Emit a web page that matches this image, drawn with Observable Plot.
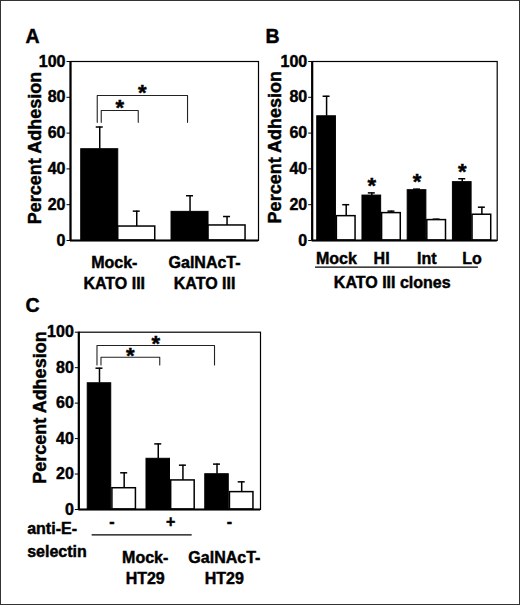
<!DOCTYPE html>
<html><head><meta charset="utf-8">
<script src="https://cdn.jsdelivr.net/npm/d3@7"></script>
<script src="https://cdn.jsdelivr.net/npm/@observablehq/plot@0.6"></script>
<style>
html,body{margin:0;padding:0;background:#fff;overflow:hidden}
#fig{position:relative;width:520px;height:605px;}
#fig svg{position:absolute;left:0;top:0;}
#fig svg text{paint-order:stroke;stroke:#000;stroke-width:0.45px;}
#border{position:absolute;left:0;top:0;width:520px;height:605px;box-sizing:border-box;border:1.5px solid #333;pointer-events:none;z-index:5}
</style></head><body>
<div id="fig"><div id="border"></div></div>
<script>
// ---------- Panel A ----------
const groupsA = ["Mock-\nKATO III", "GalNAcT-\nKATO III"];
const blackA = [51, 16];
const blackErrA = [12.4, 9];
const whiteA = [7.8, 8.4];
const whiteErrA = [8.6, 5];
const bracketsA = [
  {from: [0, 0], to: [0, 1], level: 72.6, foot: 66},
  {from: [0, 0], to: [1, 0], level: 81, foot: 66}
];

// ---------- Panel B ----------
const groupsB = ["Mock", "HI", "Int", "Lo"];
const blackB = [69.4, 25.1, 28.1, 32.6];
const blackErrB = [11.2, 1.5, 0.6, 1.9];
const whiteB = [13.6, 15.3, 11.4, 14.4];
const whiteErrB = [6.4, 1.1, 0.5, 4.2];
const starredB = ["HI", "Int", "Lo"];
const titleB = "KATO III clones";

// ---------- Panel C ----------
const treatmentC = ["-", "+", "-"];
const blackC = [71.2, 28.6, 19.9];
const blackErrC = [8.5, 8.4, 5.7];
const whiteC = [12, 16.4, 9.8];
const whiteErrC = [8.7, 8.6, 5.8];
const cellLinesC = ["Mock-\nHT29", "GalNAcT-\nHT29"];
const cellLineGroupsC = [[0, 1], [2]];
const treatmentTitleC = "anti-E-\nselectin";
const bracketsC = [
  {from: [0, 0], to: [1, 0], level: 85.9, foot: 81.5},
  {from: [0, 0], to: [2, 0], level: 92.5, foot: 81.5}
];

const yTicks = [0, 20, 40, 60, 80, 100];
const yLabel = "Percent Adhesion";
const FONT = "'Liberation Sans', Arial, Helvetica, sans-serif";

function makeLayout(gs, wg) {
  const xc = (gi, si) => gi * gs + si * (1 + wg) + 0.5;
  const gStart = gi => gi * gs;
  const gEnd = gi => gi * gs + 2 + wg;
  const gMid = gi => gi * gs + (2 + wg) / 2;
  return {xc, gStart, gEnd, gMid};
}

function rowsFor(black, blackErr, white, whiteErr, L) {
  const rows = [];
  black.forEach((v, gi) => {
    [[v, blackErr[gi], "black"], [white[gi], whiteErr[gi], "white"]].forEach(([val, err, fill], si) => {
      const c = L.xc(gi, si);
      rows.push({gi, si, value: val, err, top: val + err, fill, x1: c - 0.5, x2: c + 0.5, xc: c});
    });
  });
  return rows;
}

function barMarks(rows, xDomain) {
  return [
    Plot.rectY(rows.filter(d => d.fill === "black"), {x1: "x1", x2: "x2", y1: 0, y2: "value", fill: "black", stroke: "black", strokeWidth: 1}),
    Plot.ruleX(rows, {x: "xc", y1: "value", y2: "top", stroke: "black", strokeWidth: 1.5}),
    Plot.ruleY(rows, {y: "top", x1: "xc", x2: "xc", insetLeft: -3.5, insetRight: -3.5, stroke: "black", strokeWidth: 1.5}),
    Plot.rectY(rows.filter(d => d.fill === "white"), {x1: "x1", x2: "x2", y1: 0, y2: "value", fill: "white", stroke: "black", strokeWidth: 1.5}),
    Plot.frame({stroke: "black", strokeWidth: 1.2}),
    Plot.ruleY([0], {stroke: "black", strokeWidth: 2.2}),
    Plot.ruleX([xDomain[0]], {stroke: "black", strokeWidth: 2.2})
  ];
}

function bracketMarks(brackets, L, starDy) {
  const marks = [];
  brackets.forEach((b, i) => {
    const xa = L.xc(...b.from), xb = L.xc(...b.to);
    const pts = [{x: xa, y: b.foot}, {x: xa, y: b.level}, {x: xb, y: b.level}, {x: xb, y: b.foot}];
    const dx = i === 0 ? 1.5 : -2.5;
    marks.push(Plot.line(pts, {x: "x", y: "y", dx, stroke: "#222", strokeWidth: 1.1, curve: "linear"}));
    marks.push(Plot.text([b], {x: (xa + xb) / 2, y: b.level, text: () => "*", dx, dy: starDy, fontSize: 22}));
  });
  return marks;
}

function yLabelMark(dx, dy) {
  return Plot.text([yLabel], {text: d => d, frameAnchor: "left", rotate: -90, textAnchor: "middle", lineAnchor: "bottom", dx, dy, fontSize: 18});
}
function letterMark(letter, dx, dy) {
  return Plot.text([letter], {text: d => d, frameAnchor: "top-left", textAnchor: "start", lineAnchor: "top", dx, dy, fontSize: 19.5});
}

const common = (m) => ({
  width: 520, height: 605,
  ...m,
  y: {domain: [0, 100], ticks: yTicks, tickSize: 3.5, tickPadding: 1.5, label: null},
  style: {fontFamily: FONT, fontWeight: "bold", fontSize: "16px", background: "transparent", overflow: "visible", color: "black"}
});

const fig = document.getElementById("fig");

// ---------- Draw A ----------
{
  const L = makeLayout(2.44, 0);
  const rows = rowsFor(blackA, blackErrA, whiteA, whiteErrA, L);
  const xDomain = [-0.29, 4.79];
  const labels = groupsA.map((label, gi) => ({label, x: L.gMid(gi)}));
  fig.appendChild(Plot.plot({
    ...common({marginLeft: 70, marginRight: 262, marginTop: 61, marginBottom: 365}),
    x: {domain: xDomain, axis: null},
    marks: [
      ...barMarks(rows, xDomain),
      ...bracketMarks(bracketsA, L, -2.5),
      Plot.text(labels, {x: "x", text: "label", frameAnchor: "bottom", lineAnchor: "top", dy: 12, dx: -4, lineHeight: 1.35}),
      yLabelMark(-30, -3),
      letterMark("A", -45, -32.7)
    ]
  }));
}

// ---------- Draw B ----------
{
  const L = makeLayout(2.42, 0.05);
  const rows = rowsFor(blackB, blackErrB, whiteB, whiteErrB, L);
  const xDomain = [-0.27, 9.63];
  const labels = groupsB.map((label, gi) => ({label, x: L.gMid(gi)}));
  const stars = groupsB.map((g, gi) => ({g, x: L.xc(gi, 0), y: blackB[gi] + blackErrB[gi]})).filter(d => starredB.includes(d.g));
  const x1 = L.gStart(0), x2 = L.gEnd(groupsB.length - 1);
  fig.appendChild(Plot.plot({
    ...common({marginLeft: 311.7, marginRight: 23.3, marginTop: 61, marginBottom: 365}),
    x: {domain: xDomain, axis: null},
    marks: [
      ...barMarks(rows, xDomain),
      Plot.text(stars, {x: "x", y: "y", text: () => "*", dy: -6.8, fontSize: 22}),
      Plot.text(labels, {x: "x", text: "label", frameAnchor: "bottom", lineAnchor: "top", dy: 11.7}),
      Plot.ruleY([0], {x1, x2, dy: 26.7, insetLeft: -1.7, insetRight: 12.8, stroke: "black", strokeWidth: 1.3}),
      Plot.text([titleB], {text: d => d, x: (x1 + x2) / 2, frameAnchor: "bottom", lineAnchor: "top", dy: 36.5, dx: -12}),
      yLabelMark(-31.7, -3.8),
      letterMark("B", -46.7, -32.7)
    ]
  }));
}

// ---------- Draw C ----------
{
  const L = makeLayout(2.5, 0.05);
  const rows = rowsFor(blackC, blackErrC, whiteC, whiteErrC, L);
  const xDomain = [-0.38, 7.35];
  const signs = treatmentC.map((t, gi) => ({t, x: L.gMid(gi)}));
  const cells = cellLinesC.map((label, i) => {
    const gs = cellLineGroupsC[i];
    return {label, x1: L.gStart(gs[0]), x2: L.gEnd(gs[gs.length - 1]), n: gs.length};
  });
  fig.appendChild(Plot.plot({
    ...common({marginLeft: 78.3, marginRight: 260, marginTop: 331.7, marginBottom: 96}),
    x: {domain: xDomain, axis: null},
    marks: [
      ...barMarks(rows, xDomain),
      ...bracketMarks(bracketsC, L, -1.2),
      Plot.text(signs, {x: "x", text: "t", frameAnchor: "bottom", lineAnchor: "middle", dy: 12.7}),
      Plot.text([treatmentTitleC], {text: d => d, frameAnchor: "bottom-left", textAnchor: "start", lineAnchor: "top", dx: -51.6, dy: 7.7, lineHeight: 1.46}),
      Plot.ruleY([0], {x1: cells[0].x1, x2: cells[0].x2, dy: 25.3, insetLeft: 4.4, insetRight: 2.5, stroke: "black", strokeWidth: 1.3}),
      Plot.text([cells[0]], {x: d => (d.x1 + d.x2) / 2, text: "label", frameAnchor: "bottom", lineAnchor: "top", dy: 38, dx: 4, lineHeight: 1.35}),
      Plot.text([cells[1]], {x: d => (d.x1 + d.x2) / 2, text: "label", frameAnchor: "bottom", lineAnchor: "top", dy: 38, dx: -5, lineHeight: 1.35}),
      yLabelMark(-32.6, -13.3),
      letterMark("C", -53.3, -33.7)
    ]
  }));
}
</script>
</body></html>
